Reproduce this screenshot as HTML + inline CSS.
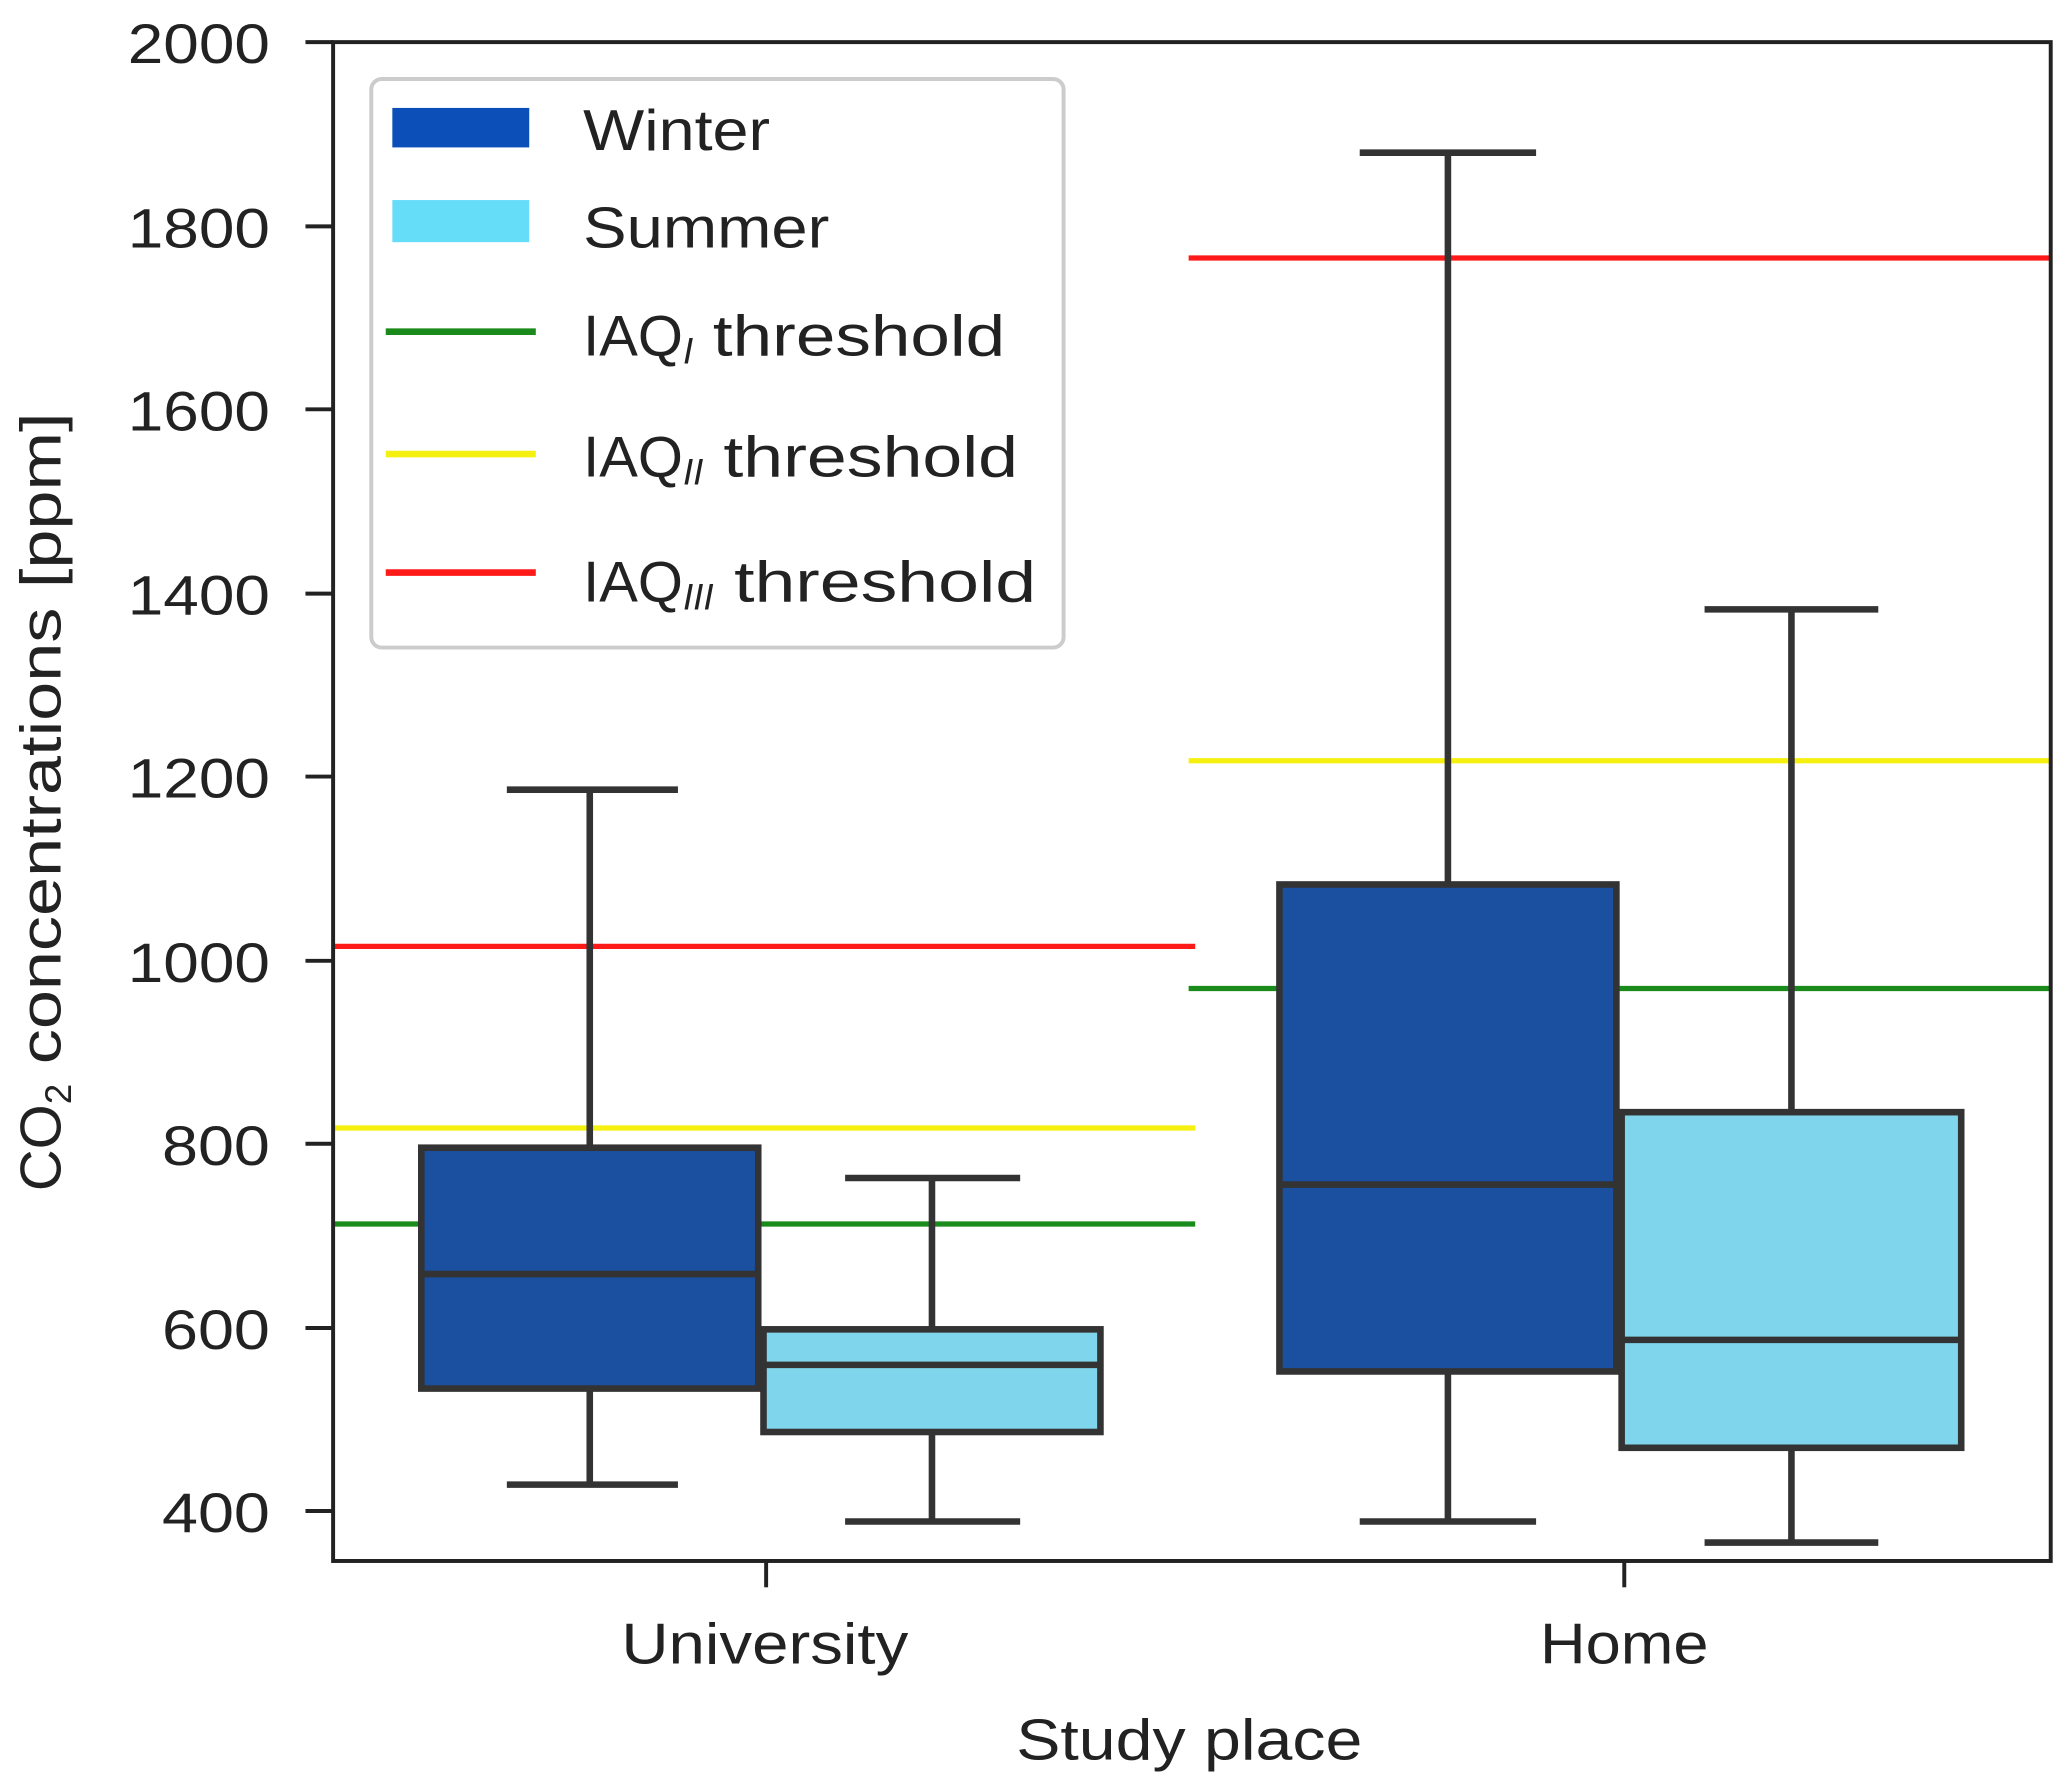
<!DOCTYPE html>
<html><head><style>html,body{margin:0;padding:0;background:#fff}svg{display:block}</style></head>
<body>
<svg width="2064" height="1790" viewBox="0 0 1568 1360" xmlns="http://www.w3.org/2000/svg" font-family="Liberation Sans, sans-serif" fill="#222">
<rect width="1568" height="1360" fill="#fff"/>
<g stroke-width="4">
<line x1="253" x2="908" y1="719" y2="719" stroke="#ff1a1a"/>
<line x1="253" x2="908" y1="857" y2="857" stroke="#f5f010"/>
<line x1="253" x2="908" y1="930" y2="930" stroke="#1a8a1a"/>
<line x1="903" x2="1558" y1="196" y2="196" stroke="#ff1a1a"/>
<line x1="903" x2="1558" y1="578" y2="578" stroke="#f5f010"/>
<line x1="903" x2="1558" y1="751" y2="751" stroke="#1a8a1a"/>
</g>
<g stroke="#333" stroke-width="5">
<line x1="448" x2="448" y1="600" y2="872"/><line x1="448" x2="448" y1="1055" y2="1128"/>
<line x1="385" x2="515" y1="600" y2="600"/><line x1="385" x2="515" y1="1128" y2="1128"/>
<rect x="320" y="872" width="256" height="183" fill="#1b4f9f"/>
<line x1="320" x2="576" y1="968" y2="968"/>
<line x1="708" x2="708" y1="895" y2="1010"/><line x1="708" x2="708" y1="1088" y2="1156"/>
<line x1="642" x2="775" y1="895" y2="895"/><line x1="642" x2="775" y1="1156" y2="1156"/>
<rect x="580" y="1010" width="256" height="78" fill="#7fd5ec"/>
<line x1="580" x2="836" y1="1037" y2="1037"/>
<line x1="1100" x2="1100" y1="116" y2="672"/><line x1="1100" x2="1100" y1="1042" y2="1156"/>
<line x1="1033" x2="1167" y1="116" y2="116"/><line x1="1033" x2="1167" y1="1156" y2="1156"/>
<rect x="972" y="672" width="256" height="370" fill="#1b4f9f"/>
<line x1="972" x2="1228" y1="900" y2="900"/>
<line x1="1361" x2="1361" y1="463" y2="845"/><line x1="1361" x2="1361" y1="1100" y2="1172"/>
<line x1="1295" x2="1427" y1="463" y2="463"/><line x1="1295" x2="1427" y1="1172" y2="1172"/>
<rect x="1232" y="845" width="258" height="255" fill="#7fd5ec"/>
<line x1="1232" x2="1490" y1="1018" y2="1018"/>
</g>
<rect x="253" y="32" width="1305" height="1154" fill="none" stroke="#222" stroke-width="3"/>
<g stroke="#222" stroke-width="3">
<line x1="232" x2="253" y1="32" y2="32"/><line x1="232" x2="253" y1="172" y2="172"/>
<line x1="232" x2="253" y1="311" y2="311"/><line x1="232" x2="253" y1="451" y2="451"/>
<line x1="232" x2="253" y1="590" y2="590"/><line x1="232" x2="253" y1="730" y2="730"/>
<line x1="232" x2="253" y1="869" y2="869"/><line x1="232" x2="253" y1="1009" y2="1009"/>
<line x1="232" x2="253" y1="1148" y2="1148"/>
<line x1="582" x2="582" y1="1186" y2="1206"/><line x1="1234" x2="1234" y1="1186" y2="1206"/>
</g>
<g font-size="42">
<text x="97" y="48" textLength="108" lengthAdjust="spacingAndGlyphs">2000</text>
<text x="97" y="188" textLength="108" lengthAdjust="spacingAndGlyphs">1800</text>
<text x="97" y="327" textLength="108" lengthAdjust="spacingAndGlyphs">1600</text>
<text x="97" y="467" textLength="108" lengthAdjust="spacingAndGlyphs">1400</text>
<text x="97" y="606" textLength="108" lengthAdjust="spacingAndGlyphs">1200</text>
<text x="97" y="746" textLength="108" lengthAdjust="spacingAndGlyphs">1000</text>
<text x="123" y="885" textLength="82" lengthAdjust="spacingAndGlyphs">800</text>
<text x="123" y="1025" textLength="82" lengthAdjust="spacingAndGlyphs">600</text>
<text x="123" y="1164" textLength="82" lengthAdjust="spacingAndGlyphs">400</text>
</g>
<g font-size="44">
<text x="472" y="1264" textLength="218" lengthAdjust="spacingAndGlyphs">University</text>
<text x="1170" y="1264" textLength="128" lengthAdjust="spacingAndGlyphs">Home</text>
<text x="772" y="1337" textLength="263" lengthAdjust="spacingAndGlyphs">Study place</text>
<text transform="translate(46,905) rotate(-90)">CO<tspan font-size="28" dy="8">2</tspan><tspan dy="-8" textLength="510" lengthAdjust="spacingAndGlyphs"> concentrations [ppm]</tspan></text>
</g>
<rect x="282" y="60" width="526" height="432" rx="8" fill="#fff" fill-opacity="0.85" stroke="#ccc" stroke-width="3"/>
<rect x="298" y="82" width="104" height="30" fill="#0d4fb8"/>
<rect x="298" y="152" width="104" height="32" fill="#66ddf8"/>
<g stroke-width="5">
<line x1="293" x2="407" y1="252" y2="252" stroke="#1a8a1a"/>
<line x1="293" x2="407" y1="345" y2="345" stroke="#f5f010"/>
<line x1="293" x2="407" y1="435" y2="435" stroke="#ff1a1a"/>
</g>
<g font-size="44">
<text x="443" y="114" textLength="142" lengthAdjust="spacingAndGlyphs">Winter</text>
<text x="443" y="188" textLength="187" lengthAdjust="spacingAndGlyphs">Summer</text>
<text x="443" y="270">IAQ<tspan font-size="28" font-style="italic" dy="6">I</tspan><tspan dy="-6" textLength="237" lengthAdjust="spacingAndGlyphs"> threshold</tspan></text>
<text x="443" y="362">IAQ<tspan font-size="28" font-style="italic" dy="6">II</tspan><tspan dy="-6" textLength="239" lengthAdjust="spacingAndGlyphs"> threshold</tspan></text>
<text x="443" y="457">IAQ<tspan font-size="28" font-style="italic" dy="6">III</tspan><tspan dy="-6" textLength="245" lengthAdjust="spacingAndGlyphs"> threshold</tspan></text>
</g>
</svg>
</body></html>
